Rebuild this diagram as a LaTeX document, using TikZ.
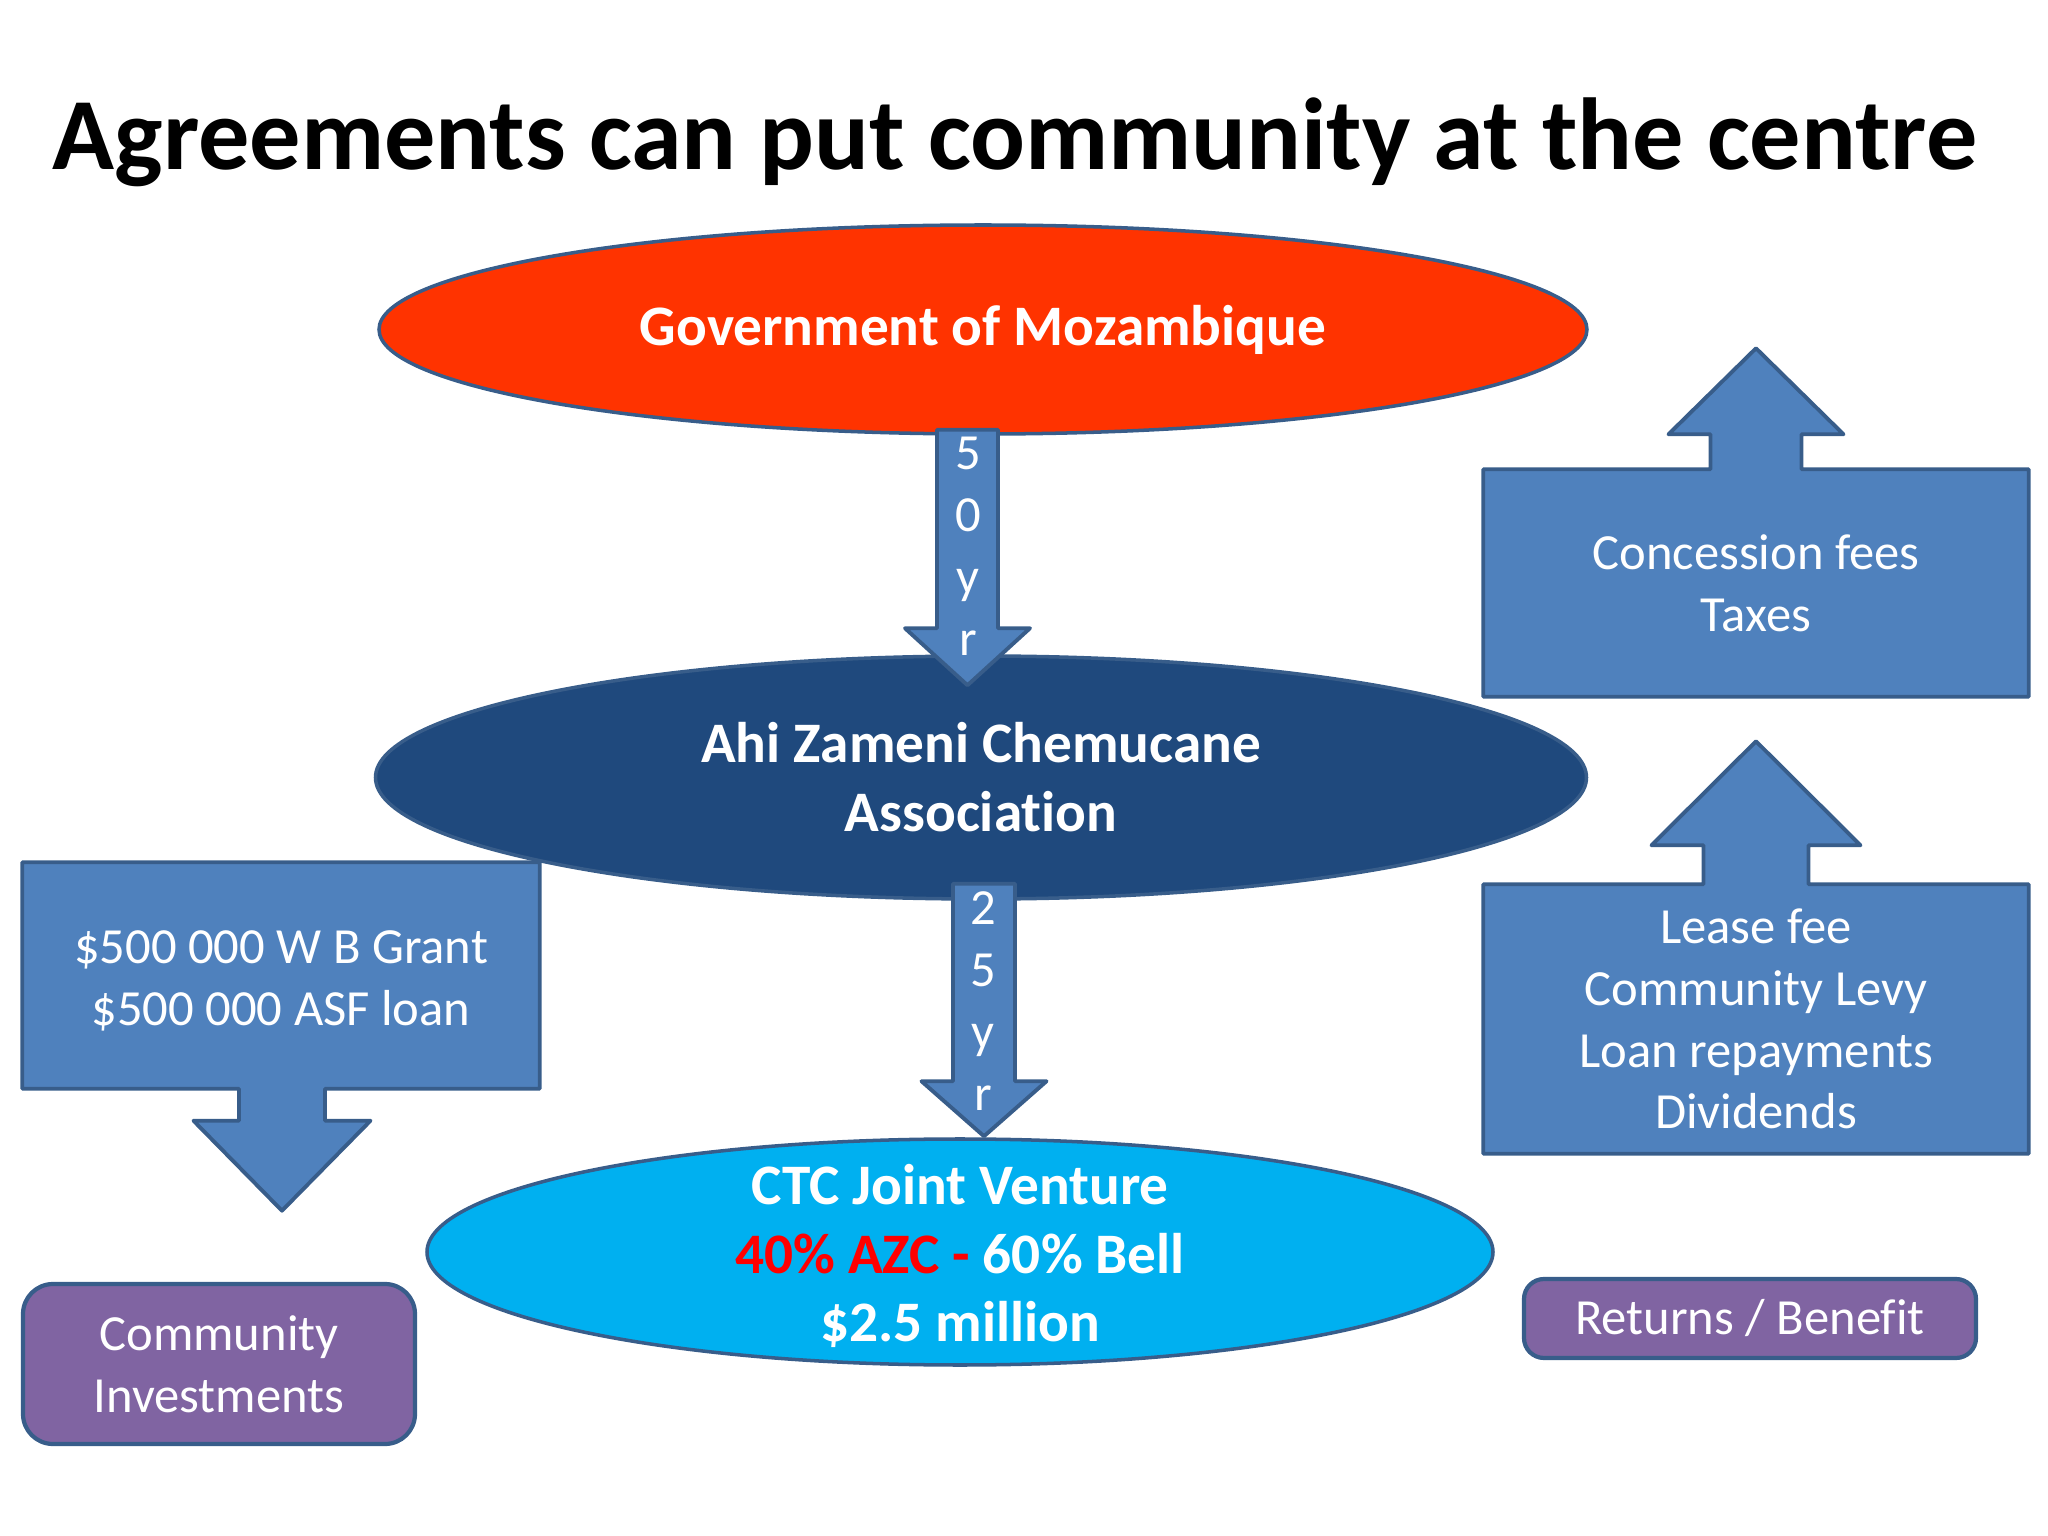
\documentclass[tikz,border=0pt]{standalone}
\usepackage{fontspec}
\setmainfont[Ligatures=NoCommon]{Carlito}
\usepackage{tikz}
\usetikzlibrary{calc,shapes.geometric,backgrounds}
\definecolor{cgRed}{HTML}{FF3300}
\definecolor{cgNavy}{HTML}{1F497D}
\definecolor{cgCyan}{HTML}{00B0F0}
\definecolor{cgBox}{HTML}{4F81BD}
\definecolor{cgEdge}{HTML}{385D8A}
\definecolor{cgPurp}{HTML}{8064A2}
\definecolor{cgTxtRed}{HTML}{FF0000}

\begin{document}
\begin{tikzpicture}[
  x=1cm, y=-1cm,
  ell/.style={ellipse, draw=cgEdge, line width=1pt, inner sep=0pt, text=white, align=center, font=\fontsize{16.3}{19.6}\selectfont\bfseries},
  txt/.style={text=white, align=center, inner sep=0pt, font=\fontsize{14.4}{17.6}\selectfont},
  blk/.style={fill=cgBox, draw=cgEdge, line width=1.1pt, line join=round},
  purpbox/.style={txt, fill=cgPurp, draw=cgEdge, line width=1.2pt},
]
\path[use as bounding box] (0,0) rectangle (20.48,15.36);
% title
\node[font=\fontsize{29.1}{35}\selectfont\bfseries, anchor=base, inner sep=0pt] (title) at (10.15,1.70) {Agreements can put community at the centre};
% the three parties (top to bottom)
\node[ell, fill=cgRed, minimum width=12.08cm, minimum height=2.09cm] (gov) at (9.83,3.295) {Government of Mozambique};
\node[ell, fill=cgNavy, minimum width=12.11cm, minimum height=2.43cm] (az) at (9.81,7.775) {Ahi Zameni Chemucane\\Association};
\node[ell, fill=cgCyan, minimum width=10.66cm, minimum height=2.26cm] (ctc) at (9.60,12.52) {};
\node[ell, draw=none] (ctctext) at ($(ctc)+(0,0.04)$) {CTC Joint Venture\\\textcolor{cgTxtRed}{40\% AZC -} 60\% Bell\\\$2.5 million};
% lease terms: block arrows gov -> az -> ctc
\draw[blk] ($(gov.south)+(-0.46,-0.06)$) -- ($(az.north)+(-0.44,-0.26)$) -- ($(az.north)+(-0.76,-0.26)$) -- ($(az.north)+(-0.135,0.31)$) -- ($(az.north)+(0.49,-0.26)$) -- ($(az.north)+(0.17,-0.26)$) -- ($(gov.south)+(0.15,-0.06)$) -- cycle;
\node[txt] (yr50) at ($(gov.south)!0.5!(az.north)+(-0.14,0.015)$) {5\\0\\y\\r};
\draw[blk] ($(az.south)+(-0.28,-0.17)$) -- ($(ctc.north)+(-0.07,-0.56)$) -- ($(ctc.north)+(-0.385,-0.56)$) -- ($(ctc.north)+(0.24,-0.01)$) -- ($(ctc.north)+(0.865,-0.56)$) -- ($(ctc.north)+(0.55,-0.56)$) -- ($(az.south)+(0.34,-0.17)$) -- cycle;
\node[txt] (yr25) at ($(az.south)!0.5!(ctc.north)+(0.125,-0.18)$) {2\\5\\y\\r};
% callouts
\node[txt, minimum width=5.44cm, minimum height=2.26cm] (conc) at (17.56,5.83) {Concession fees\\Taxes};
\node[txt, minimum width=5.44cm, minimum height=2.68cm] (lease) at (17.56,10.19) {Lease fee\\Community Levy\\Loan repayments\\Dividends};
\node[txt, minimum width=5.16cm, minimum height=2.25cm] (grant) at (2.81,9.755) {};
\node[txt] (granttext) at ($(grant)+(0,0.05)$) {\$500 000 W B Grant\\\$500 000 ASF loan};
\begin{scope}[on background layer]
\draw[blk] (conc.south west) -- (conc.north west) -- ($(conc.north)+(-0.455,0)$) -- ($(conc.north)+(-0.455,-0.35)$) -- ($(conc.north)+(-0.875,-0.35)$) -- ($(conc.north)+(0,-1.21)$) -- ($(conc.north)+(0.875,-0.35)$) -- ($(conc.north)+(0.455,-0.35)$) -- ($(conc.north)+(0.455,0)$) -- (conc.north east) -- (conc.south east) -- cycle;
\draw[blk] (lease.south west) -- (lease.north west) -- ($(lease.north)+(-0.525,0)$) -- ($(lease.north)+(-0.525,-0.39)$) -- ($(lease.north)+(-1.045,-0.39)$) -- ($(lease.north)+(0,-1.43)$) -- ($(lease.north)+(1.045,-0.39)$) -- ($(lease.north)+(0.525,-0.39)$) -- ($(lease.north)+(0.525,0)$) -- (lease.north east) -- (lease.south east) -- cycle;
\draw[blk] (grant.north west) -- (grant.south west) -- ($(grant.south)+(-0.42,0)$) -- ($(grant.south)+(-0.42,0.32)$) -- ($(grant.south)+(-0.875,0.32)$) -- ($(grant.south)+(0.01,1.22)$) -- ($(grant.south)+(0.895,0.32)$) -- ($(grant.south)+(0.44,0.32)$) -- ($(grant.south)+(0.44,0)$) -- (grant.south east) -- (grant.north east) -- cycle;
\end{scope}
% where the money ends up
\node[purpbox, rounded corners=0.3cm, minimum width=3.92cm, minimum height=1.60cm] (invest) at (2.19,13.64) {Community\\Investments};
\node[purpbox, rounded corners=0.2cm, minimum width=4.52cm, minimum height=0.79cm] (returns) at (17.50,13.185) {Returns / Benefit};
\end{tikzpicture}
\end{document}
